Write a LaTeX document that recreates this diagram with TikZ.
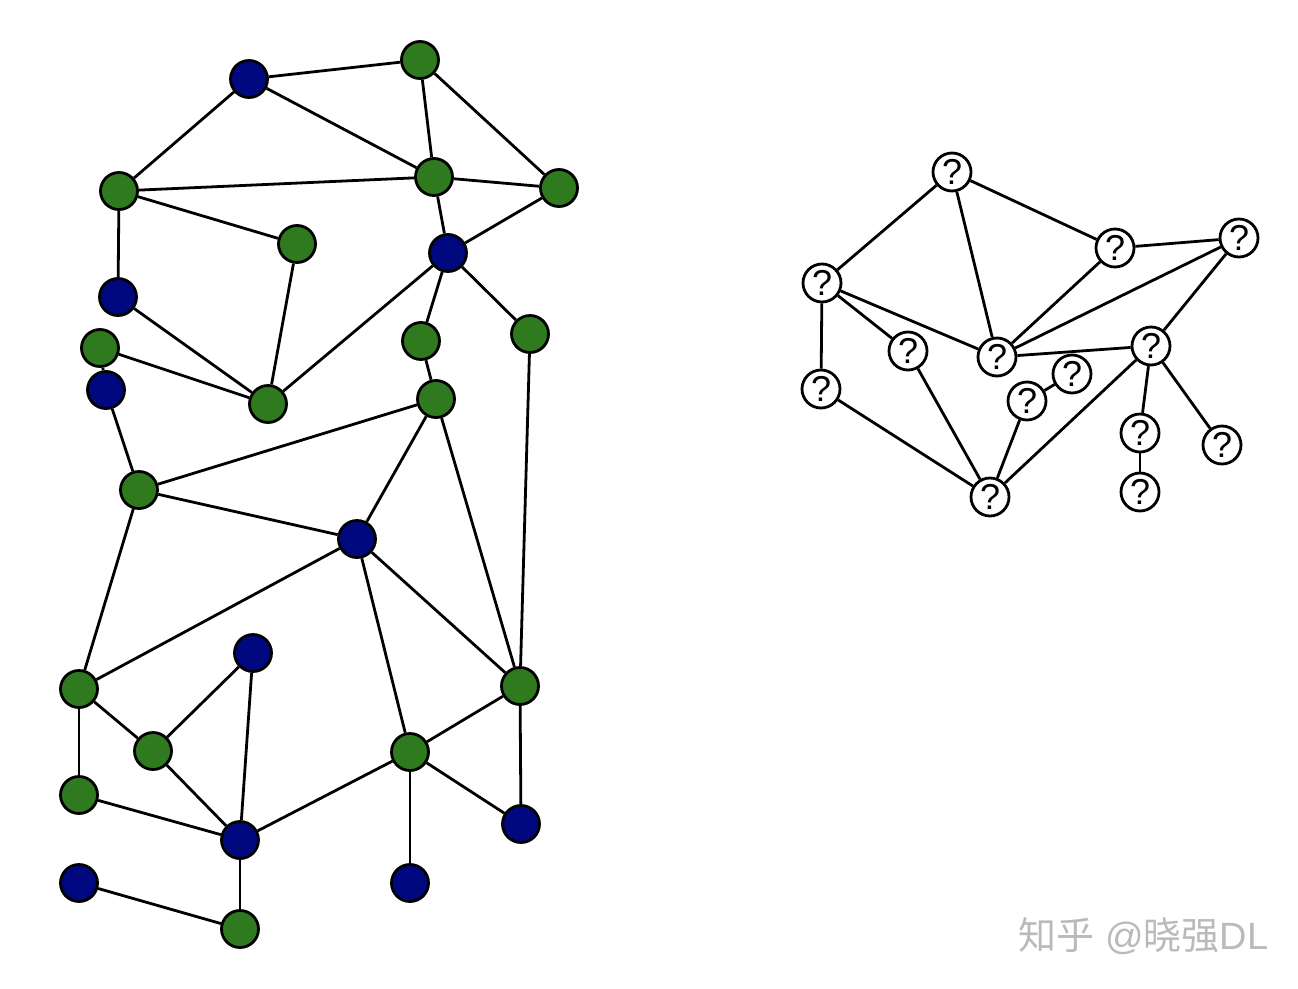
\documentclass[tikz,border=0pt]{standalone}
\usepackage{fontspec}
\setmainfont{Liberation Sans}
\newfontfamily\cjk{Noto Sans CJK SC}
\usetikzlibrary{shapes}
\definecolor{leafgreen}{RGB}{47,122,30}
\definecolor{navyblue}{RGB}{0,8,128}

\begin{document}
\begin{tikzpicture}[x=1pt,y=-1pt,line width=2.8pt,
  gnode/.style={draw, circle, fill=leafgreen, minimum size=37pt, inner sep=0pt},
  bnode/.style={draw, circle, fill=navyblue, minimum size=37pt, inner sep=0pt},
  qnode/.style={draw, circle, fill=white, minimum size=38pt, inner sep=0pt,
    font=\fontsize{36}{36}\selectfont}]
  \useasboundingbox (0,0) rectangle (1298,988);

  % labelled graph
  \node[bnode] (n1)  at (249,79)  {};
  \node[gnode] (n2)  at (420,60)  {};
  \node[gnode] (n3)  at (119,191) {};
  \node[gnode] (n4)  at (434,177) {};
  \node[gnode] (n5)  at (559,188) {};
  \node[gnode] (n6)  at (297,244) {};
  \node[bnode] (n7)  at (448,253) {};
  \node[bnode] (n8)  at (118,297) {};
  \node[gnode] (n9)  at (100,348) {};
  \node[gnode] (n10) at (421,341) {};
  \node[gnode] (n11) at (530,334) {};
  \node[bnode] (n12) at (106,390) {};
  \node[gnode] (n13) at (268,404) {};
  \node[gnode] (n14) at (436,399) {};
  \node[gnode] (n15) at (139,490) {};
  \node[bnode] (n16) at (357,539) {};
  \node[bnode] (n17) at (253,653) {};
  \node[gnode] (n18) at (79,689)  {};
  \node[gnode] (n19) at (520,686) {};
  \node[gnode] (n20) at (153,751) {};
  \node[gnode] (n21) at (410,752) {};
  \node[gnode] (n22) at (79,795)  {};
  \node[bnode] (n23) at (521,824) {};
  \node[bnode] (n24) at (240,840) {};
  \node[bnode] (n25) at (79,883)  {};
  \node[bnode] (n26) at (410,883) {};
  \node[gnode] (n27) at (240,929) {};

  \path (n1) edge (n2) edge (n3) edge (n4)
        (n2) edge (n4) edge (n5)
        (n3) edge (n4) edge (n6) edge (n8)
        (n4) edge (n5) edge (n7)
        (n5) edge (n7)
        (n6) edge (n13)
        (n7) edge (n13) edge (n10) edge (n11)
        (n8) edge (n13)
        (n9) edge (n13) edge (n12)
        (n12) edge (n15)
        (n10) edge (n14)
        (n11) edge (n19)
        (n14) edge (n15) edge (n16) edge (n19)
        (n15) edge (n16) edge (n18)
        (n16) edge (n18) edge (n19) edge (n21)
        (n17) edge (n20) edge (n24)
        (n18) edge (n20) edge (n22)
        (n20) edge (n24)
        (n22) edge (n24)
        (n21) edge (n24) edge (n19) edge (n23) edge (n26)
        (n19) edge (n23)
        (n24) edge (n27)
        (n25) edge (n27);

  % unlabelled graph
  \node[qnode] (q1)  at (952,172)  {?};
  \node[qnode] (q2)  at (1115,248) {?};
  \node[qnode] (q3)  at (1239,238) {?};
  \node[qnode] (q4)  at (822,283)  {?};
  \node[qnode] (q5)  at (908,351)  {?};
  \node[qnode] (q6)  at (997,357)  {?};
  \node[qnode] (q7)  at (1151,346) {?};
  \node[qnode] (q8)  at (1072,374) {?};
  \node[qnode] (q9)  at (1027,401) {?};
  \node[qnode] (q10) at (821,389)  {?};
  \node[qnode] (q11) at (1140,433) {?};
  \node[qnode] (q12) at (1222,445) {?};
  \node[qnode] (q13) at (1140,492) {?};
  \node[qnode] (q14) at (990,497)  {?};

  \path (q1) edge (q4) edge (q6) edge (q2)
        (q2) edge (q3) edge (q6)
        (q3) edge (q6) edge (q7)
        (q4) edge (q6) edge (q5) edge (q10)
        (q6) edge (q7)
        (q5) edge (q14)
        (q10) edge (q14)
        (q9) edge (q14) edge (q8)
        (q7) edge (q14) edge (q11) edge (q12)
        (q11) edge (q13);

  \node[text=black!27, font=\fontsize{38}{38}\selectfont, anchor=west] (mark)
    at (1014,936) {{\cjk 知乎} @{\cjk 晓强}DL};
\end{tikzpicture}
\end{document}
